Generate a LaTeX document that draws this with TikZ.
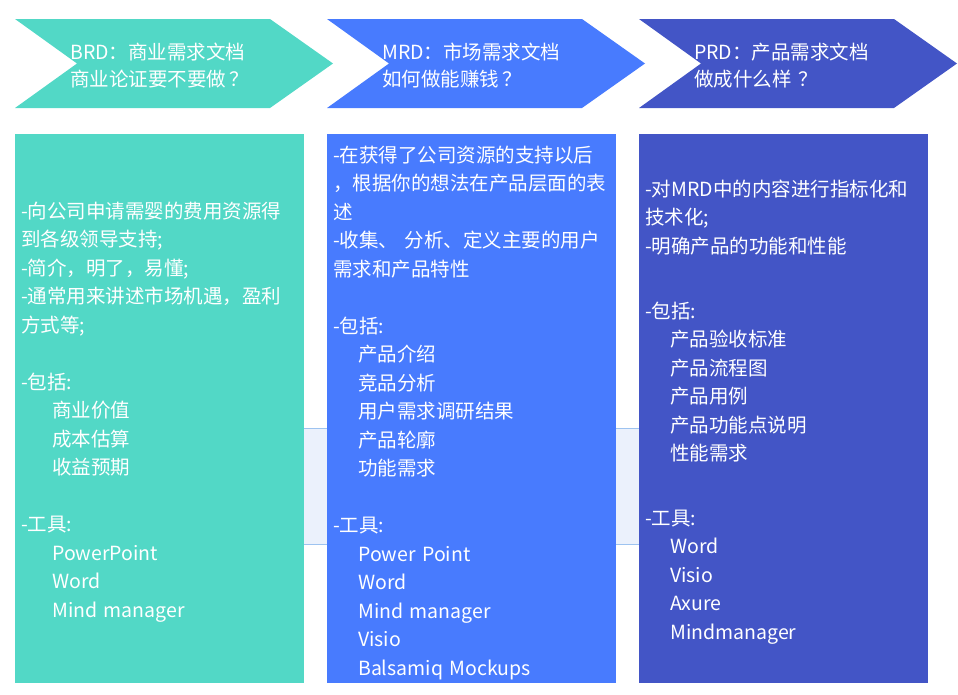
\documentclass[tikz,border=0pt]{standalone}
\usepackage{fontspec}
\setmainfont{Noto Sans CJK SC}
\definecolor{cteal}{HTML}{52D8C6}
\definecolor{cblue}{HTML}{487BFE}
\definecolor{cindigo}{HTML}{4355C6}
\definecolor{bandfill}{HTML}{EBF1FC}
\definecolor{bandline}{HTML}{9DC3F0}
\tikzset{
  coltext/.style={anchor=base west,inner sep=0pt,align=left,text=white,
    font=\fontsize{19.5}{28.5}\selectfont},
  headtext/.style={anchor=base west,inner sep=0pt,align=left,text=white,
    text width=240pt,font=\fontsize{19.5}{27.5}\selectfont},
}
\newcommand{\ind}[1]{\hspace*{#1}}
\begin{document}
\begin{tikzpicture}[x=1pt,y=-1pt]
\useasboundingbox (0,0) rectangle (958,694);
% band
\fill[bandfill] (15,428) rectangle (928,544);
\draw[bandline,line width=0.8pt] (15,428) -- (928,428);
\draw[bandline,line width=0.8pt] (15,544) -- (928,544);
% chevrons
\foreach \x/\c in {15/cteal,327/cblue,639/cindigo}{
  \fill[\c] (\x,19) -- ++(255,0) -- ++(63,44.5) -- ++(-63,44.5) -- ++(-255,0) -- ++(62,-44.5) -- cycle;
}
% columns
\fill[cteal] (15,134) rectangle (304,683);
\fill[cblue] (327,134) rectangle (616,683);
\fill[cindigo] (639,134) rectangle (928,683);
% headers
\node[headtext] (h1) at (70,59.4) {BRD：商业需求文档\\商业论证要不要做\,？};
\node[headtext] (h2) at (382,59.4) {MRD：市场需求文档\\如何做能赚钱\,？};
\node[headtext] (h3) at (694,59.4) {PRD：产品需求文档\\做成什么样 ？};
% column texts
\node[coltext,text width=280pt] (t1) at (21,218.4) {-向公司申请需婴的费用资源得\\到各级领导支持;\\-简介，明了，易懂;\\-通常用来讲述市场机遇，盈利\\方式等;\\[28.5pt]-包括:\\\ind{31pt}商业价值\\\ind{31pt}成本估算\\\ind{31pt}收益预期\\[28.5pt]-工具:\\\ind{31pt}PowerPoint\\\ind{31pt}Word\\\ind{31pt}Mind manager};
\node[coltext,text width=285pt] (t2) at (333,162.4) {-在获得了公司资源的支持以后\\，根据你的想法在产品层面的表\\述\\-收集、 分析、定义主要的用户\\需求和产品特性\\[28.5pt]-包括:\\\ind{25pt}产品介绍\\\ind{25pt}竞品分析\\\ind{25pt}用户需求调研结果\\\ind{25pt}产品轮廓\\\ind{25pt}功能需求\\[28.5pt]-工具:\\\ind{25pt}Power Point\\\ind{25pt}Word\\\ind{25pt}Mind manager\\\ind{25pt}Visio\\\ind{25pt}Balsamiq Mockups};
\node[coltext,text width=285pt] (t3) at (645,196.4) {-对MRD中的内容进行指标化和\\技术化;\\-明确产品的功能和性能\\[36.5pt]-包括:\\\ind{25pt}产品验收标准\\\ind{25pt}产品流程图\\\ind{25pt}产品用例\\\ind{25pt}产品功能点说明\\\ind{25pt}性能需求\\[36pt]-工具:\\\ind{25pt}Word\\\ind{25pt}Visio\\\ind{25pt}Axure\\\ind{25pt}Mindmanager};
\end{tikzpicture}
\end{document}
